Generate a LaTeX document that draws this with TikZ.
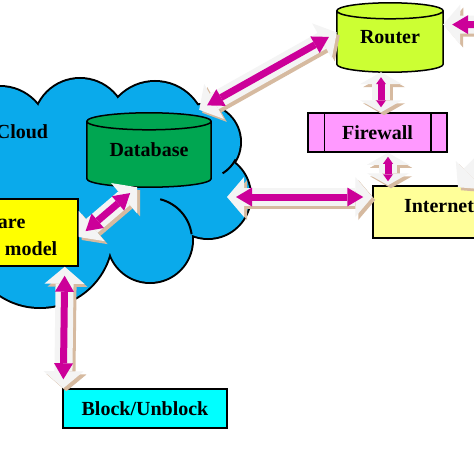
\documentclass[tikz,border=0pt]{standalone}
\usepackage{fontspec}
\setmainfont{Liberation Serif}
\usetikzlibrary{arrows.meta,backgrounds,calc}

\definecolor{skyc}{RGB}{10,170,235}
\definecolor{limec}{RGB}{204,255,51}
\definecolor{greenc}{RGB}{0,166,81}
\definecolor{pinkc}{RGB}{255,153,255}
\definecolor{paleyc}{RGB}{255,255,153}
\definecolor{yellc}{RGB}{255,255,0}
\definecolor{cyanc}{RGB}{0,255,255}
\definecolor{magc}{RGB}{204,0,153}
\definecolor{tanc}{RGB}{214,186,160}
\definecolor{haloc}{RGB}{244,244,244}

% cylinder drawn round a node
\newcommand{\drum}[3]{%
  \path let \p1=(#1.north east), \p2=(#1.south west), \n1={(\x1-\x2)/2} in
    [draw=black,line width=1.5pt,fill=#2]
    ({\x2},{\y1-#3}) -- ({\x2},{\y2+#3})
      arc[start angle=180,end angle=360,x radius=\n1,y radius=#3]
      -- ({\x1},{\y1-#3})
      arc[start angle=0,end angle=180,x radius=\n1,y radius=#3] -- cycle
    ({\x2},{\y1-#3}) arc[start angle=180,end angle=360,x radius=\n1,y radius=#3];
}
% double arrow with halo and shadow
\newcommand{\dlink}[4]{%
  \draw[shadowline,#1] (#3) -- (#4);
  \draw[haloline,#1] (#3) -- (#4);
  \draw[coreline,#2] (#3) -- (#4);
}

\begin{document}
\begin{tikzpicture}
  [x=1pt,y=-1pt,
   font=\bfseries\fontsize{20}{27}\selectfont,
   box/.style={draw,line width=1.5pt,inner sep=0pt},
   drumbox/.style={inner sep=0pt},
   widehead/.style={{Triangle[width=40pt,length=17pt,line width=0pt]}-{Triangle[width=40pt,length=17pt,line width=0pt]}},
   flathead/.style={{Triangle[width=42pt,length=12pt,line width=0pt]}-{Triangle[width=42pt,length=12pt,line width=0pt]}},
   thinhead/.style={{Triangle[width=19pt,length=16pt,line width=0pt]}-{Triangle[width=19pt,length=16pt,line width=0pt]}},
   smallhead/.style={{Triangle[width=10pt,length=7pt,line width=0pt]}-{Triangle[width=10pt,length=7pt,line width=0pt]}},
   shadowline/.style={draw=tanc,line width=18pt,widehead,transform canvas={shift={(3pt,-3pt)}}},
   haloline/.style={draw=haloc,line width=18pt,widehead},
   coreline/.style={draw=magc,line width=7pt,thinhead,shorten <=9pt,shorten >=9pt}]
  \useasboundingbox (0,0) rectangle (474,474);

  \node[drumbox,minimum width=106pt,minimum height=69pt] (rt) at (390,37.5) {Router};
  \node[box,fill=pinkc,minimum width=139pt,minimum height=39pt] (fw) at (377.5,132.5) {Firewall};
  \node[box,fill=paleyc,minimum width=132pt,minimum height=52pt,text depth=12pt] (inet) at (439,212) {Internet};
  \node[drumbox,minimum width=124pt,minimum height=74pt] (db) at (149,150) {Database};
  \node[box,fill=yellc,minimum height=67pt,text width=60pt,inner xsep=20pt,align=left] (sw) at (28,232.5) {\rule{0pt}{20pt}are\\\hspace*{7pt}model};
  \node[box,fill=cyanc,minimum width=164pt,minimum height=39pt] (blk) at (145,408.5) {Block/Unblock};
  \node (cl) at (22,132) {Cloud};
  \coordinate (cw) at (227,197);
  \coordinate (ex) at (560,25);
  \coordinate (ey) at (540,105);

  \draw[line width=1.5pt] ([xshift=17pt]fw.north west) -- ([xshift=17pt]fw.south west)
    ([xshift=-17pt]fw.north east) -- ([xshift=-17pt]fw.south east);

  \begin{scope}[on background layer]
    \fill[white] (0,0) rectangle (474,474);
    % cloud
    \foreach \cx/\cy/\r in {0/135/48,80/125/46,155/132/50,203/142/37,208/196/42,150/240/42,40/235/72}
      \draw[line width=4pt] (\cx,\cy) circle[radius=\r];
    \foreach \cx/\cy/\r in {0/135/48,80/125/46,155/132/50,203/142/37,208/196/42,150/240/42,40/235/72}
      \fill[skyc] (\cx,\cy) circle[radius=\r];
    \fill[skyc] (-40,120) -- (200,118) -- (230,190) -- (200,225) -- (150,235)
      -- (107,250) -- (40,260) -- (-10,260) -- cycle;
    \draw[line width=2pt] ([shift={(28:37)}]203,142) arc[start angle=28,end angle=58,radius=37];
    \draw[line width=2pt] ([shift={(-76:42)}]150,240) arc[start angle=-76,end angle=-8,radius=42];
    \drum{rt}{limec}{8pt}
    \drum{db}{greenc}{8.5pt}
  \end{scope}

  \dlink{}{}{[xshift=-14pt]sw.south east}{[xshift=1pt]blk.north west}
  \dlink{}{}{[yshift=-4.5pt]sw.east}{[xshift=-12pt]db.south}
  \dlink{}{}{[xshift=-12pt,yshift=3pt]db.north east}{[yshift=5pt]rt.west}
  \dlink{flathead}{smallhead,shorten <=5pt,shorten >=5pt}{[xshift=-9pt]rt.south}{[xshift=3.5pt]fw.north}
  \dlink{flathead}{smallhead,shorten <=4pt,shorten >=4pt}{[xshift=10.5pt]fw.south}{[xshift=-51pt]inet.north}
  \dlink{}{}{cw}{[yshift=15pt]inet.west}
  \dlink{}{}{[yshift=13pt]rt.east}{ex}
  \dlink{}{shorten <=30pt}{[xshift=19pt,yshift=-2pt]inet.north}{ey}
\end{tikzpicture}
\end{document}
